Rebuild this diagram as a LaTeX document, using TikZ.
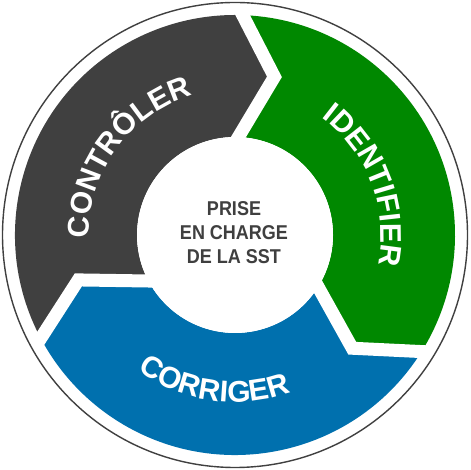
\documentclass[tikz,border=0pt]{standalone}
\usepackage{fontspec}
\setmainfont{Liberation Sans}
\newfontfamily\hubfont[FakeStretch=0.9]{Liberation Sans}
\usetikzlibrary{decorations.text}
\definecolor{ctrlgrey}{HTML}{404040}
\definecolor{identgreen}{HTML}{008800}
\definecolor{corrblue}{HTML}{0070AE}
\definecolor{hubgrey}{HTML}{3F3F3F}
\newcommand\ringfont{\fontsize{30}{36}\selectfont\bfseries}

\begin{document}
\begin{tikzpicture}[
  x=1pt, y=1pt,
  seg/.style={fill=#1},
  gap/.style={draw=white, line width=13pt, line cap=rect, miter limit=10},
  ringlabel/.style={decorate, decoration={text along path, text align=center,
      text color=white, text={|\ringfont|#1}}},
  hubtext/.style={align=center, text=hubgrey, font=\hubfont\fontsize{20}{24}\selectfont\bfseries}
]
\useasboundingbox (0,0) rectangle (470,470);
\fill[white] (0,0) rectangle (470,470);
\begin{scope}[shift={(235,235)}]
% outer rim
\draw[ctrlgrey, line width=1.4pt, fill=white] (0,0) circle[radius=232.5pt];
% the three chevron segments
\foreach \a/\col in {208/ctrlgrey, 88/identgreen, -32/corrblue}
  \fill[seg=\col] (\a:220) arc[start angle=\a, end angle=\a-120, radius=220pt]
    -- (\a-132:163) -- (\a-120:98) arc[start angle=\a-120, end angle=\a, radius=98pt]
    -- (\a-12:163) -- cycle;
% white gaps between segments
\foreach \a in {208, 88, -32}
  \draw[gap] (\a:220) -- (\a-12:163) -- (\a:98);
% hub
\fill[white] (0,0) circle[radius=98pt];
\node[hubtext] (hub) at (-1,2) {PRISE\\EN CHARGE\\DE LA SST};
% labels on the ring
\path[ringlabel=CONTRÔLER] (204:146) arc[start angle=204, end angle=84, radius=146pt];
\path[ringlabel=IDENTIFIER] (81:146) arc[start angle=81, end angle=-39, radius=146pt];
\path[ringlabel=CORRIGER] (202:167) arc[start angle=202, end angle=322, radius=167pt];
\end{scope}
\end{tikzpicture}
\end{document}
